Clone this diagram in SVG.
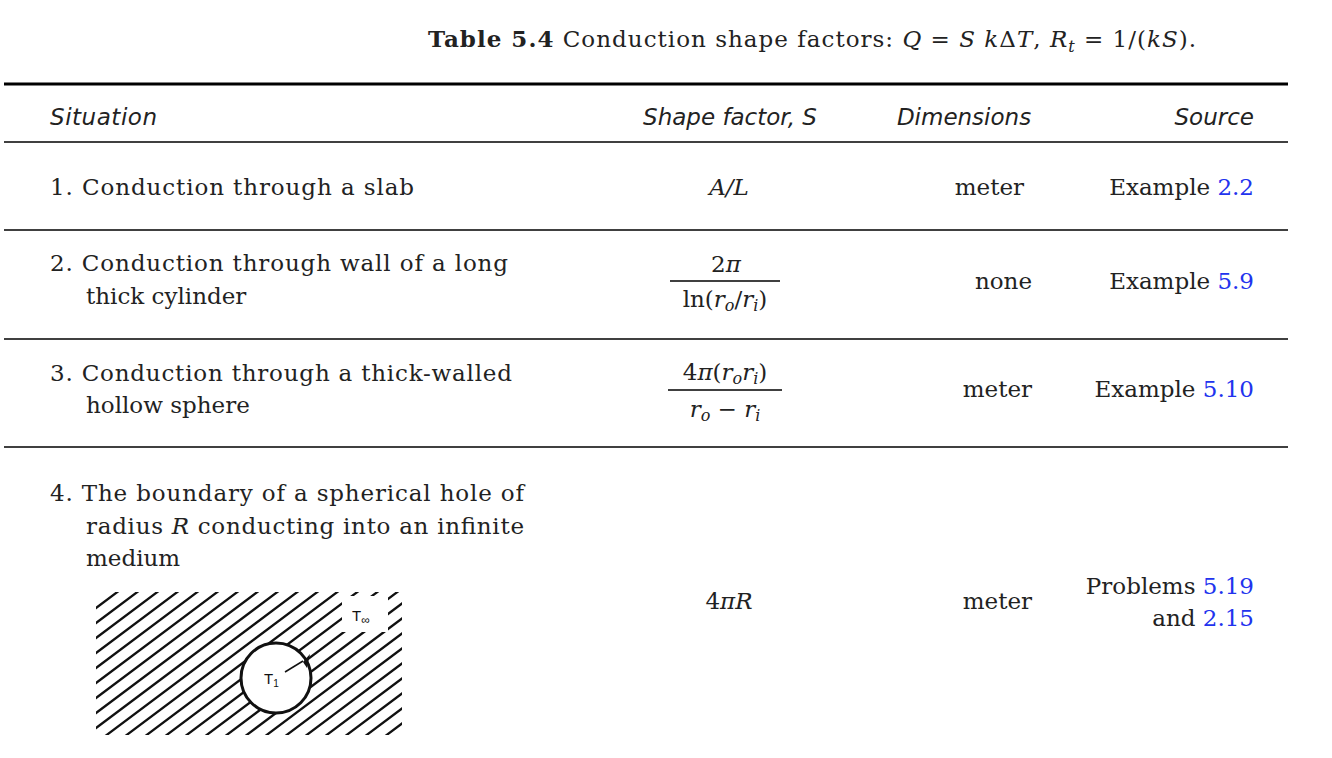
<svg xmlns="http://www.w3.org/2000/svg" width="1332" height="758" viewBox="0 0 1332 758">
<style>
.t{font-family:"DejaVu Serif",serif;font-size:23px;fill:#222}
.m{font-family:"DejaVu Serif",serif;font-size:23px;font-style:italic;fill:#222}
.h{font-family:"DejaVu Sans","Open Sans",sans-serif;font-size:23px;font-style:italic;fill:#222}
.l{fill:#2233ee}
.rule{stroke:#000;stroke-width:1.5}
.hat{stroke:#111;stroke-width:2.3}
</style>
<defs>
<clipPath id="c"><rect x="96" y="592" width="306" height="143"/></clipPath>
</defs>
<rect width="1332" height="758" fill="#fff"/>
<text x="428" y="47" class="t" textLength="768"><tspan font-weight="bold">Table 5.4</tspan>  Conduction shape factors: <tspan font-style="italic">Q</tspan> = <tspan font-style="italic">S k</tspan>Δ<tspan font-style="italic">T</tspan>, <tspan font-style="italic">R<tspan font-size="16" dy="5">t</tspan></tspan><tspan dy="-5"> = 1/(</tspan><tspan font-style="italic">kS</tspan>).</text>
<g id="rules">
<line x1="4" y1="84" x2="1288" y2="84" stroke="#000" stroke-width="3"/>
<line class="rule" x1="4" y1="142" x2="1288" y2="142"/>
<line class="rule" x1="4" y1="230" x2="1288" y2="230"/>
<line class="rule" x1="4" y1="339" x2="1288" y2="339"/>
<line class="rule" x1="4" y1="447" x2="1288" y2="447"/>
</g>
<g id="header">
<text x="50" y="125" class="h" textLength="107">Situation</text>
<text x="730" y="125" class="h" text-anchor="middle">Shape factor, S</text>
<text x="964" y="125" class="h" text-anchor="middle">Dimensions</text>
<text x="1254" y="125" class="h" text-anchor="end">Source</text>
</g>
<g id="row1">
<text x="50" y="195" class="t" textLength="364">1. Conduction through a slab</text>
<text x="729" y="195" class="m" text-anchor="middle">A/L</text>
<text x="1024" y="195" class="t" text-anchor="end">meter</text>
<text x="1254" y="195" class="t" text-anchor="end">Example <tspan class="l">2.2</tspan></text>
</g>
<g id="row2">
<text x="50" y="271" class="t" textLength="458">2. Conduction through wall of a long</text>
<text x="86" y="304" class="t">thick cylinder</text>
<text x="726" y="272" class="t" text-anchor="middle">2<tspan font-style="italic">π</tspan></text>
<line class="rule" x1="670" y1="281" x2="780" y2="281"/>
<text x="725" y="307" class="t" text-anchor="middle">ln(<tspan font-style="italic">r<tspan font-size="16" dy="4">o</tspan></tspan><tspan dy="-4">/</tspan><tspan font-style="italic">r<tspan font-size="16" dy="4">i</tspan></tspan><tspan dy="-4">)</tspan></text>
<text x="1032" y="289" class="t" text-anchor="end">none</text>
<text x="1254" y="289" class="t" text-anchor="end">Example <tspan class="l">5.9</tspan></text>
</g>
<g id="row3">
<text x="50" y="381" class="t" textLength="462">3. Conduction through a thick-walled</text>
<text x="86" y="413" class="t">hollow sphere</text>
<text x="725" y="380" class="t" text-anchor="middle">4<tspan font-style="italic">π</tspan>(<tspan font-style="italic">r<tspan font-size="16" dy="4">o</tspan></tspan><tspan font-style="italic" dy="-4">r</tspan><tspan font-style="italic" font-size="16" dy="4">i</tspan><tspan dy="-4">)</tspan></text>
<line class="rule" x1="668" y1="390" x2="782" y2="390"/>
<text x="725" y="417" class="t" text-anchor="middle"><tspan font-style="italic">r<tspan font-size="16" dy="4">o</tspan></tspan><tspan dy="-4"> − </tspan><tspan font-style="italic">r<tspan font-size="16" dy="4">i</tspan></tspan></text>
<text x="1032" y="397" class="t" text-anchor="end">meter</text>
<text x="1254" y="397" class="t" text-anchor="end">Example <tspan class="l">5.10</tspan></text>
</g>
<g id="row4">
<text x="50" y="501" class="t" textLength="474">4. The boundary of a spherical hole of</text>
<text x="86" y="534" class="t" textLength="438">radius <tspan font-style="italic">R</tspan> conducting into an infinite</text>
<text x="86" y="566" class="t">medium</text>
<text x="729" y="609" class="t" text-anchor="middle">4<tspan font-style="italic">πR</tspan></text>
<text x="1032" y="609" class="t" text-anchor="end">meter</text>
<text x="1254" y="594" class="t" text-anchor="end">Problems <tspan class="l">5.19</tspan></text>
<text x="1254" y="626" class="t" text-anchor="end">and <tspan class="l">2.15</tspan></text>
</g>
<g id="figure">
<g clip-path="url(#c)">
<path class="hat" d="M-120,770 L120,590 M-100,770 L140,590 M-80,770 L160,590 M-60,770 L180,590 M-40,770 L200,590 M-20,770 L220,590 M0,770 L240,590 M20,770 L260,590 M40,770 L280,590 M60,770 L300,590 M80,770 L320,590 M100,770 L340,590 M120,770 L360,590 M140,770 L380,590 M160,770 L400,590 M180,770 L420,590 M200,770 L440,590 M220,770 L460,590 M240,770 L480,590 M260,770 L500,590 M280,770 L520,590 M300,770 L540,590 M320,770 L560,590 M340,770 L580,590 M360,770 L600,590"/>
</g>
<rect x="342" y="596" width="46" height="36" fill="#fff"/>
<circle cx="276" cy="678" r="35" fill="#fff" stroke="#111" stroke-width="3"/>
<path d="M303,662 L310,654 L307,668 Z" fill="#111"/>
<line x1="285" y1="672" x2="303" y2="661" stroke="#111" stroke-width="1.5"/>
<text x="264" y="684" font-family="Liberation Sans,sans-serif" font-size="15" fill="#111">T<tspan font-size="10" dy="3">1</tspan></text>
<text x="352" y="621" font-family="Liberation Sans,sans-serif" font-size="15" fill="#111">T<tspan font-size="12" dy="3">∞</tspan></text>
</g>
</svg>
